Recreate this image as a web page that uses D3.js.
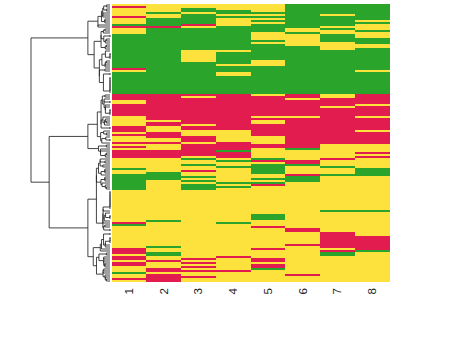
<!DOCTYPE html>
<html><head><meta charset="utf-8">
<script src="https://cdn.jsdelivr.net/npm/d3@7"></script>
<style>body{margin:0;background:#fff}svg{display:block}</style>
</head><body><svg id="c" width="474" height="338"></svg>
<script>
// column labels
const columns = ["1","2","3","4","5","6","7","8"];
// cell categories per column, top row first, run-length coded (R = red, Y = yellow, G = green)
const col1 = "Y1 R1 Y4 R1 Y3 G1 R1 Y3 G17 R1 Y1 G11 R3 Y2 R6 Y5 R3 Y1 R1 Y3 R1 Y1 R1 Y1 R4 Y5 G1 Y2 G8 Y16 R1 G1 Y11 R3 Y1 R2 Y1 R2 Y3 G1 Y2 R1 Y1";
const col2 = "Y4 G1 Y2 G4 R1 G33 R13 Y1 R2 Y3 R3 Y2 R1 Y3 R4 Y7 G4 Y20 G1 Y12 G1 Y2 G2 Y2 R1 Y3 R2 Y1 R4";
const col3 = "Y2 G2 Y1 G5 R1 Y1 G11 Y6 G16 R1 Y1 R13 Y1 R2 Y3 R3 Y1 R6 Y1 G1 Y2 G1 Y2 R1 Y2 G1 Y1 G1 Y1 G3 Y34 R1 Y1 R1 Y1 R1 Y1 R1 Y2 R1 Y2";
const col4 = "Y3 G2 Y1 G1 Y4 G12 Y1 G6 Y1 G3 Y2 G9 R18 Y6 R4 G1 R3 Y1 G1 Y2 G1 Y7 G1 Y1 G1 Y17 G1 Y16 R1 Y6 R1 Y5";
const col5 = "Y4 G1 Y1 G1 Y1 G1 Y1 G4 Y4 G1 Y1 G8 Y3 G14 Y1 R10 Y1 R1 Y2 R6 Y4 R2 Y5 G1 R1 Y1 G5 Y2 G1 Y1 G1 R1 Y14 G3 Y3 R1 Y10 R1 Y4 R2 Y1 R2 G1 Y6";
const col6 = "G12 Y2 G1 Y6 G24 R2 Y1 R8 Y1 R15 G1 Y5 R2 G1 Y4 R1 G3 Y23 R2 Y6 R1 Y14 R1 Y3";
const col7 = "G5 Y1 G5 Y1 G1 Y2 G4 Y4 G22 Y2 R4 Y1 R18 Y7 R1 Y3 G1 Y3 G1 Y17 G1 Y10 R8 Y1 R1 G2 Y13";
const col8 = "G8 Y1 G1 Y3 G1 Y3 G3 Y2 G11 Y1 G11 R5 Y1 R5 Y1 R6 Y1 R6 Y4 R1 Y1 R1 Y5 G4 Y17 G1 Y12 R7 G1 Y15";
const columnData = [col1,col2,col3,col4,col5,col6,col7,col8];
const categoryValue = {R: 0, Y: 1, G: 2};
const categoryColor = {R: "#e21c4f", Y: "#fde23e", G: "#2ba42b"};

// top of the row dendrogram: three main clusters (first row of each) and their
// merge heights as fractions of the root height: (A, (B1, B2))
const groupStarts = [0, 45, 77];
const groupHeights = [0.28, 0.28, 0.28];
const bHeight = 0.77;

function decode(s){
  const out = [];
  for (const m of s.matchAll(/([RYG])(\d+)/g)) for (let k = 0; k < +m[2]; k++) out.push(m[1]);
  return out;
}
const cols = columnData.map(decode);
const N = d3.min(cols, c => c.length);
const rows = d3.range(N).map(i => cols.map(c => c[i]));

const svg = d3.select("#c");
const x = d3.scaleBand().domain(columns).range([111.5, 389.5]);
const y = d3.scaleBand().domain(d3.range(N)).range([4, 282]);

// heatmap cells
const g = svg.append("g").attr("shape-rendering", "crispEdges");
rows.forEach((r, i) => {
  g.selectAll(null).data(r).join("rect")
    .attr("x", (d, j) => x(columns[j]))
    .attr("y", y(i))
    .attr("width", x.bandwidth() + 0.5)
    .attr("height", y.bandwidth() + 0.3)
    .attr("fill", d => categoryColor[d]);
});

// column labels
svg.append("g").selectAll("text").data(columns).join("text")
  .attr("transform", d => `translate(${x(d) + x.bandwidth()/2},288) rotate(-90)`)
  .attr("dy", "0.35em")
  .attr("text-anchor", "end")
  .attr("font-family", "Liberation Sans, Arial, sans-serif")
  .attr("font-size", 11.5)
  .attr("fill", "#222")
  .text(d => d);

// row dendrogram: order-preserving Ward clustering of the rows
const vals = rows.map(r => r.map(c => categoryValue[c]));
function ward(A, B){
  let s = 0;
  for (let k = 0; k < A.c.length; k++) s += (A.c[k] - B.c[k]) ** 2;
  return Math.sqrt(2 * A.n * B.n / (A.n + B.n) * s);
}
function clusterRows(idx){
  let cl = idx.map(i => ({n: 1, c: vals[i].slice(), node: {leaf: i, h: 0}}));
  let links = d3.range(cl.length - 1).map(k => ward(cl[k], cl[k + 1]));
  while (cl.length > 1) {
    let bk = 0;
    for (let k = 1; k < links.length; k++) if (links[k] < links[bk]) bk = k;
    const A = cl[bk], B = cl[bk + 1];
    const h = Math.max(links[bk], A.node.h, B.node.h);
    const n = A.n + B.n;
    const merged = {n, c: A.c.map((v, k) => (v * A.n + B.c[k] * B.n) / n), node: {h, children: [A.node, B.node]}};
    cl.splice(bk, 2, merged);
    links.splice(bk, 1);
    if (bk > 0) links[bk - 1] = ward(cl[bk - 1], merged);
    if (bk < cl.length - 1) links[bk] = ward(merged, cl[bk + 1]);
  }
  return cl[0].node;
}
const W = clusterRows(d3.range(N)).h; // height unit of the full tree
const groupTrees = groupStarts.map((s, k) => {
  const e = k + 1 < groupStarts.length ? groupStarts[k + 1] : N;
  const t = clusterRows(d3.range(s, e));
  t.h = groupHeights[k] * W;
  return t;
});
const treeData = {h: W, children: [groupTrees[0], {h: bHeight * W, children: [groupTrees[1], groupTrees[2]]}]};
const root = d3.hierarchy(treeData);
const hx = d3.scaleLinear().domain([0, W]).range([110, 31]);
root.eachAfter(n => {
  n.py = n.children ? (n.children[0].py + n.children[1].py) / 2 : y(n.data.leaf) + y.bandwidth()/2;
  n.px = hx(n.data.h);
});
const paths = [];
root.each(n => {
  if (!n.children) return;
  const [a, b] = n.children;
  paths.push(`M${a.px},${a.py}H${n.px}V${b.py}H${b.px}`);
});
svg.append("g").selectAll("path").data(paths).join("path")
  .attr("d", d => d).attr("fill", "none").attr("stroke", "#222").attr("stroke-width", 0.85);
</script>
</body></html>
